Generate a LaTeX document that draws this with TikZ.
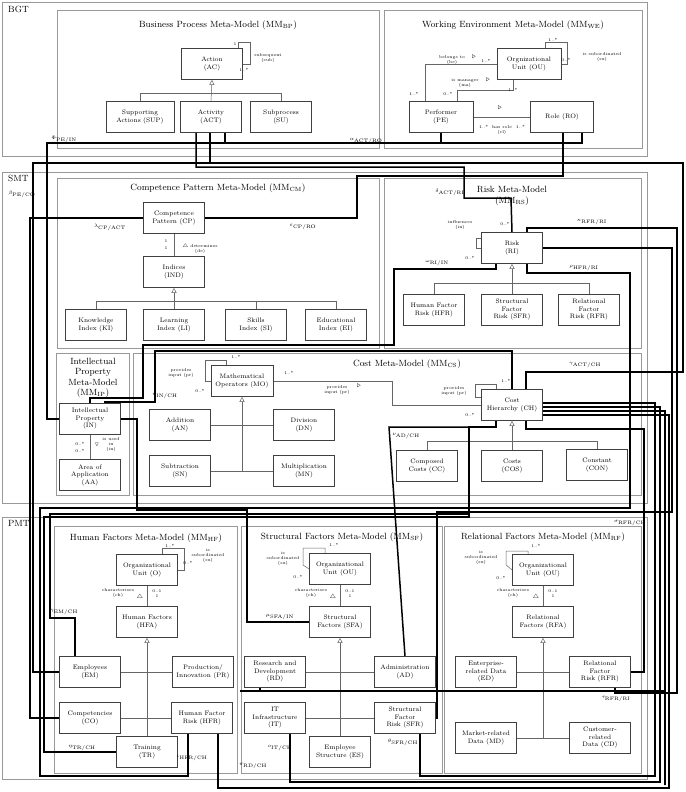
\documentclass[tikz,border=0pt]{standalone}
\usepackage{amssymb}
\usetikzlibrary{arrows.meta,calc,backgrounds}
\begin{document}
\begin{tikzpicture}[x=1pt,y=-1pt,
 box/.style={draw=black!75,line width=0.6pt,fill=white,align=center,font=\fontsize{6.5}{7.5}\selectfont,inner sep=1pt,minimum width=61,minimum height=31},
 frame/.style={draw=black!40,line width=0.7pt},
 ttl/.style={font=\fontsize{9}{10.5}\selectfont,align=center,inner sep=0pt},
 lab/.style={font=\fontsize{4.2}{5}\selectfont,align=center,inner sep=0.5pt},
 sub/.style={font=\fontsize{5.5}{5.5}\selectfont,inner sep=0.5pt},
 thin/.style={draw=black!60,line width=0.5pt},
 gen/.style={thin,-{Triangle[open,length=5pt,width=5pt]}},
 wire/.style={line width=1.5pt,line join=miter}]
\useasboundingbox (0,0) rectangle (685,792);
% ---------- boxes ----------
\node[box] (ac) at (212,64) {Action\\(AC)};
\node[box,minimum width=68] (sup) at (140,117) {Supporting\\Actions (SUP)};
\node[box] (act) at (211,117) {Activity\\(ACT)};
\node[box] (su) at (281,117) {Subprocess\\(SU)};
\node[box,minimum width=64] (ouwe) at (529,64) {Orgnizational\\Unit (OU)};
\node[box,minimum width=64] (pe) at (441,117) {Performer\\(PE)};
\node[box,minimum width=63] (ro) at (562,117) {Role (RO)};
\node[box] (cp) at (174,218) {Competence\\Pattern (CP)};
\node[box] (ind) at (174,272) {Indices\\(IND)};
\node[box] (ki) at (96,325) {Knowledge\\Index (KI)};
\node[box] (li) at (174,325) {Learning\\Index (LI)};
\node[box] (si) at (256,325) {Skills\\Index (SI)};
\node[box] (ei) at (336,325) {Educational\\Index (EI)};
\node[box] (ri) at (512,248) {Risk\\(RI)};
\node[box] (hfr) at (434,310) {Human Factor\\Risk (HFR)};
\node[box] (sfr) at (512,310) {Structural\\Factor\\Risk (SFR)};
\node[box] (rfr) at (589,310) {Relational\\Factor\\Risk (RFR)};
\node[box] (in) at (90,419) {Intellectual\\Property\\(IN)};
\node[box] (aa) at (90,475) {Area of\\Application\\(AA)};
\node[box,minimum width=62] (mo) at (242,381) {Mathematical\\Operators (MO)};
\node[box] (an) at (180,425) {Addition\\(AN)};
\node[box] (dn) at (304,425) {Division\\(DN)};
\node[box] (sn) at (180,471) {Subtraction\\(SN)};
\node[box] (mn) at (304,471) {Multiplication\\(MN)};
\node[box] (ch) at (512,405) {Cost\\Hierarchy (CH)};
\node[box] (cc) at (427,466) {Composed\\Costs (CC)};
\node[box] (cos) at (512,466) {Costs\\(COS)};
\node[box] (con) at (597,465) {Constant\\(CON)};
\node[box] (ouh) at (147,570) {Organizational\\Unit (O)};
\node[box] (hfa) at (147,622) {Human Factors\\(HFA)};
\node[box] (em) at (90,672) {Employees\\(EM)};
\node[box] (pr) at (203,672) {Production/\\Innovation (PR)};
\node[box] (co) at (90,718) {Competencies\\(CO)};
\node[box] (hfr2) at (202,718) {Human Factor\\Risk (HFR)};
\node[box] (tr) at (147,752) {Training\\(TR)};
\node[box] (ous) at (340,569) {Organizational\\Unit (OU)};
\node[box] (sfa) at (340,622) {Structural\\Factors (SFA)};
\node[box] (rd) at (275,672) {Research and\\Development\\(RD)};
\node[box] (ad) at (405,672) {Administration\\(AD)};
\node[box] (it) at (275,718) {IT\\Infrastructure\\(IT)};
\node[box] (sfr2) at (405,718) {Structural\\Factor\\Risk (SFR)};
\node[box] (es) at (340,752) {Employee\\Structure (ES)};
\node[box] (our) at (543,570) {Organizational\\Unit (OU)};
\node[box] (rfa) at (543,622) {Relational\\Factors (RFA)};
\node[box] (ed) at (486,672) {Enterprise-\\related Data\\(ED)};
\node[box] (rfr2) at (600,672) {Relational\\Factor\\Risk (RFR)};
\node[box] (md) at (486,738) {Market-related\\Data (MD)};
\node[box] (cd) at (600,738) {Customer-\\related\\Data (CD)};
% ---------- titles ----------
\node[ttl,anchor=north west] (tbgt) at (8,6) {BGT};
\node[ttl,anchor=north west] (tsmt) at (8,175) {SMT};
\node[ttl,anchor=north west] (tpmt) at (8,520) {PMT};
\node[ttl] (tbp) at (218,25) {Business Process Meta-Model (MM$_{\mathrm{BP}}$)};
\node[ttl] (twe) at (513,25) {Working Environment Meta-Model (MM$_{\mathrm{WE}}$)};
\node[ttl] (tcm) at (218,188) {Competence Pattern Meta-Model (MM$_{\mathrm{CM}}$)};
\node[ttl] (trs) at (512,196) {Risk Meta-Model\\(MM$_{\mathrm{RS}}$)};
\node[ttl] (tip) at (93,378) {Intellectual\\Property\\Meta-Model\\(MM$_{\mathrm{IP}}$)};
\node[ttl] (tcs) at (407,364) {Cost Meta-Model (MM$_{\mathrm{CS}}$)};
\node[ttl] (thf) at (146,538) {Human Factors Meta-Model (MM$_{\mathrm{HF}}$)};
\node[ttl] (tsf) at (342,537) {Structural Factors Meta-Model (MM$_{\mathrm{SF}}$)};
\node[ttl] (trf) at (543,537) {Relational Factors Meta-Model (MM$_{\mathrm{RF}}$)};
% ---------- labels ----------
\node[lab] at (268,58) {subsequent\\(sub)};
\node[lab] at (235,44) {1};
\node[lab] at (244,70) {1..*};
\node[lab] at (452,60) {belongs to\\(be)};
\node[lab,font=\fontsize{7}{7}\selectfont] at (474,57) {$\triangleright$};
\node[lab] at (486,61) {1..*};
\node[lab] at (414,94) {1..*};
\node[lab] at (465,83) {is manager\\(ma)};
\node[lab,font=\fontsize{7}{7}\selectfont] at (488,80) {$\triangleright$};
\node[lab] at (448,94) {0..*};
\node[lab] at (513,90) {1..*};
\node[lab] at (553,40) {1..*};
\node[lab] at (566,60) {0..*};
\node[lab] at (602,57) {is subordinated\\(su)};
\node[lab,font=\fontsize{7}{7}\selectfont] at (500,108) {$\triangleright$};
\node[lab] at (502,130) {1..*\ \ has role\ \ 1..*\\(rl)};
\node[sub] at (64,139) {$\Phi_{\mathrm{PE/IN}}$};
\node[sub] at (366,141) {$\alpha_{\mathrm{ACT/RO}}$};
\node[sub] at (22,194) {$\beta_{\mathrm{PE/CO}}$};
\node[lab] at (166,245) {1\\[2pt]1};
\node[lab] at (200,249) {$\triangle$ determines\\(de)};
\node[sub] at (110,227) {$\lambda_{\mathrm{CP/ACT}}$};
\node[sub] at (303,227) {$\varepsilon_{\mathrm{CP/RO}}$};
\node[sub] at (450,192) {$\delta_{\mathrm{ACT/RI}}$};
\node[lab] at (460,225) {influences\\(in)};
\node[lab] at (505,224) {0..*};
\node[lab] at (470,258) {0..*};
\node[sub] at (437,263) {$\omega_{\mathrm{RI/IN}}$};
\node[sub] at (592,222) {$\kappa_{\mathrm{RFR/RI}}$};
\node[sub] at (584,268) {$\rho_{\mathrm{HFR/RI}}$};
\node[lab] at (80,447) {0..*\\[2pt]0..*};
\node[lab,font=\fontsize{6}{6}\selectfont] at (97,445) {$\triangledown$};
\node[lab] at (111,445) {is used\\in\\(in)};
\node[lab] at (181,373) {provides\\input (pr)};
\node[lab] at (236,357) {1..*};
\node[lab] at (200,391) {0..*};
\node[sub] at (165,396) {$\upsilon_{\mathrm{IN/CH}}$};
\node[lab] at (289,373) {1..*};
\node[lab] at (337,390) {provides\\input (pr)};
\node[lab,font=\fontsize{7}{7}\selectfont] at (359,386) {$\triangleright$};
\node[lab] at (454,391) {provides\\input (pr)};
\node[lab] at (506,381) {1..*};
\node[lab] at (470,415) {0..*};
\node[sub] at (585,365) {$\gamma_{\mathrm{ACT/CH}}$};
\node[sub] at (406,436) {$\nu_{\mathrm{AD/CH}}$};
\node[sub] at (630,523) {$\sigma_{\mathrm{RFR/CH}}$};
\node[lab] at (170,546) {1..*};
\node[lab] at (188,563) {0..*};
\node[lab] at (208,556) {is\\subordinated\\(su)};
\node[lab] at (118,593) {characterises\\(ch)};
\node[lab,font=\fontsize{6}{6}\selectfont] at (140,597) {$\triangle$};
\node[lab] at (157,594) {0..1\\1};
\node[sub] at (64,612) {$\gamma_{\mathrm{EM/CH}}$};
\node[sub] at (82,748) {$\eta_{\mathrm{TR/CH}}$};
\node[sub] at (192,758) {$\iota_{\mathrm{HFR/CH}}$};
\node[lab] at (334,545) {1..*};
\node[lab] at (283,559) {is\\subordinated\\(su)};
\node[lab] at (298,577) {0..*};
\node[lab] at (311,593) {characterises\\(ch)};
\node[lab,font=\fontsize{6}{6}\selectfont] at (333,597) {$\triangle$};
\node[lab] at (350,594) {0..1\\1};
\node[sub] at (280,617) {$\mu_{\mathrm{SFA/IN}}$};
\node[sub] at (280,748) {$o_{\mathrm{IT/CH}}$};
\node[sub] at (253,766) {$\pi_{\mathrm{RD/CH}}$};
\node[sub] at (403,742) {$\theta_{\mathrm{SFR/CH}}$};
\node[lab] at (536,546) {1..*};
\node[lab] at (481,558) {is\\subordinated\\(su)};
\node[lab] at (501,578) {0..*};
\node[lab] at (513,593) {characterises\\(ch)};
\node[lab,font=\fontsize{6}{6}\selectfont] at (536,597) {$\triangle$};
\node[lab] at (553,594) {0..1\\1};
\node[sub] at (616,699) {$\tau_{\mathrm{RFR/RI}}$};
\begin{scope}[on background layer]
\fill[white] (0,0) rectangle (685,792);
% frames
\draw[frame] (2,2) rectangle (647,156);
\draw[frame] (57,10) rectangle (379,148);
\draw[frame] (384,10) rectangle (642,148);
\draw[frame] (2,172) rectangle (647,503);
\draw[frame] (57,178) rectangle (379,348);
\draw[frame] (384,178) rectangle (641,348);
\draw[frame] (56,353) rectangle (129,495);
\draw[frame] (133,353) rectangle (641,495);
\draw[frame] (2,517) rectangle (647,779);
\draw[frame] (54,526) rectangle (237,773);
\draw[frame] (241,526) rectangle (442,773);
\draw[frame] (444,526) rectangle (641,773);
% thin connectors
\draw[gen] (act.north) -- (ac.south);
\draw[thin] (sup.north) |- (281,93) -- (su.north);
\draw[thin] (238,48) |- (250,42) |- (ac.east);
\draw[thin] ($(pe.north)+(-16,0)$) |- (ouwe.west);
\draw[thin] ($(pe.north)+(16,0)$) |- (513,90) -- ($(ouwe.south)+(-16,0)$);
\draw[thin] ($(ouwe.north)+(16,0)$) |- (567,42) |- (ouwe.east);
\draw[thin] (pe.east) -- (ro.west);
\draw[thin] (cp.south) -- (ind.north);
\draw[gen] (li.north) -- (ind.south);
\draw[thin] (ki.north) |- (336,301) -- (ei.north);
\draw[thin] (si.north) -- (256,301);
\draw[thin] (ri.west) -- (476,248) |- (496,238) -- ($(ri.north)+(-16,0)$);
\draw[gen] (sfr.north) -- (ri.south);
\draw[thin] (hfr.north) |- (589,283) -- (rfr.north);
\draw[thin] (in.south) -- (aa.north);
\draw[thin] (mo.west) -- (205,381) |- (226,360) -- ($(mo.north)+(-16,0)$);
\draw[gen] (242,471) -- (mo.south);
\draw[thin] (an.east) -- (dn.west);
\draw[thin] (sn.east) -- (mn.west);
\draw[thin] (mo.east) -- (392,381) |- (ch.west);
\draw[thin] ($(ch.west)+(0,-8)$) -- (475,397) |- (496,384) -- ($(ch.north)+(-16,0)$);
\draw[gen] (cos.north) -- (ch.south);
\draw[thin] (cc.north) |- (597,441) -- (con.north);
\draw[thin] (ouh.south) -- (hfa.north);
\draw[thin] ($(ouh.north)+(15,0)$) |- (184,548) |- (ouh.east);
\draw[gen] (tr.north) -- (hfa.south);
\draw[thin] (em.east) -- (pr.west);
\draw[thin] (co.east) -- (hfr2.west);
\draw[thin] (ous.south) -- (sfa.north);
\draw[thin] (ous.west) -- (303,565) |- (325,548) -- ($(ous.north)+(-15,0)$);
\draw[gen] (es.north) -- (sfa.south);
\draw[thin] (rd.east) -- (ad.west);
\draw[thin] (it.east) -- (sfr2.west);
\draw[thin] (our.south) -- (rfa.north);
\draw[thin] (our.west) -- (506,565) |- (528,551) -- ($(our.north)+(-15,0)$);
\draw[gen] (543,738) -- (rfa.south);
\draw[thin] (ed.east) -- (rfr2.west);
\draw[thin] (md.east) -- (cd.west);
% thick wires
\draw[wire] (pe.south) |- (47,143) |- (in.west);
\draw[wire] ($(su.south)+(-56,0)$) |- (582,143) -- ($(ro.south)+(20,0)$);
\draw[wire] ($(ro.south)+(1,0)$) |- (357,176) |- (cp.east);
\draw[wire] (cp.west) -| (30,718) -- (co.west);
\draw[wire] ($(act.south)+(-15,0)$) |- (464,167) |- (511,198) -- (ri.north);
\draw[wire] ($(act.south)+(-1,0)$) |- (33,163) |- (em.west);
\draw[wire] (210,163) -| (683,372) -| ($(ch.north)+(14,0)$);
\draw[wire] ($(ri.north)+(15,0)$) |- (677,228) |- (615,693) -- ($(rfr2.south)+(15,0)$);
\draw[wire] (ri.east) -| (672,512) -| (437,718) -- (sfr2.east);
\draw[wire] ($(ri.south)+(-16,0)$) |- (394,269) |- (143,345) |- (90,398) -- (in.north);
\draw[wire] (ch.north) |- (155,351) |- (105,402) -- ($(in.north)+(15,0)$);
\draw[wire] ($(ri.south)+(15,0)$) |- (630,273) |- (40,508) |- (188,776) -- ($(hfr2.south)+(-14,0)$);
\draw[wire] (in.east) -| (137,510) -| (247,622) -- (sfa.west);
\draw[wire] ($(ch.south)+(14,0)$) |- (644,429) |- (rfr2.east);
\draw[wire] ($(ch.east)+(0,-2)$) -| (655,776) -| ($(sfr2.south)+(15,0)$);
\draw[wire] ($(ch.east)+(0,2)$) -| (660,782) -| ($(it.south)+(15,0)$);
\draw[wire] ($(ch.east)+(0,6)$) -| (665,785) |- (240,691) -| ($(rd.south)+(-15,0)$);
\draw[wire] ($(ch.east)+(0,10)$) -| (669,788) -| ($(hfr2.south)+(16,0)$);
\draw[wire] ($(ch.south)+(-16,0)$) |- (389,427) -- (ad.north);
\draw[wire] ($(ch.south)+(-16,0)$) |- (469,427) |- (50,514) |- (75,618) -- (em.north -| 75,0);
\draw[wire] (469,514) |- (44,517) |- (tr.west);
\end{scope}
\end{tikzpicture}
\end{document}
